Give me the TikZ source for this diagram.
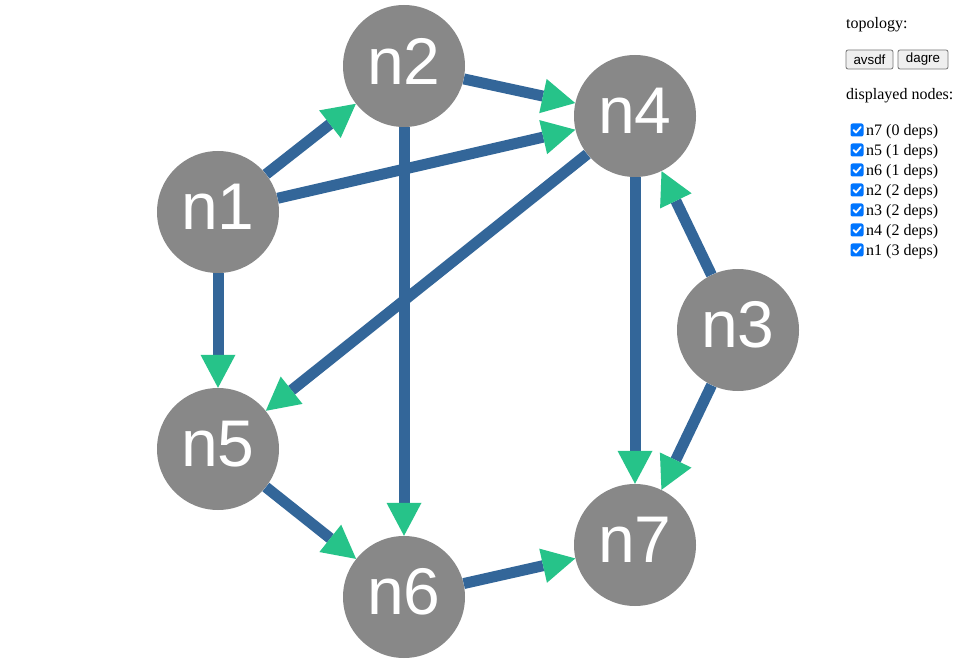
\documentclass[tikz,border=0pt]{standalone}
\usepackage{fontspec}
\setmainfont{Liberation Serif}
\newfontfamily\nodefont{Liberation Sans}
\usetikzlibrary{arrows.meta}
\definecolor{nodegray}{HTML}{888888}
\definecolor{edgeblue}{HTML}{336699}
\definecolor{tipgreen}{HTML}{26C389}
\definecolor{cbblue}{HTML}{0075FF}
\definecolor{btnborder}{HTML}{767676}
\definecolor{btnfill}{HTML}{EFEFEF}
\begin{document}
\begin{tikzpicture}[x=1pt,y=-1pt,
  vert/.style={circle,fill=nodegray,minimum size=122pt,inner sep=0pt},
  vlab/.style={text=white,font=\nodefont\fontsize{66}{66}\selectfont,inner sep=0pt,yshift=5pt},
  edge/.style={draw=edgeblue,line width=11pt,-{Triangle[length=33pt,width=35pt,line width=0pt,color=tipgreen,fill=tipgreen]}},
  paneltext/.style={anchor=base west,inner sep=0pt,font=\fontsize{16}{19}\selectfont},
  btn/.style={draw=btnborder,fill=btnfill,rounded corners=2pt,line width=0.8pt,minimum height=19pt,inner sep=0pt,font=\nodefont\fontsize{13.33}{15}\selectfont},
  cbox/.style={fill=cbblue,rounded corners=2pt,minimum size=13pt,inner sep=0pt},
]
\useasboundingbox (0,0) rectangle (956,660);
\fill[white] (0,0) rectangle (956,660);

\node[vert,label={[vlab]center:n1}] (n1) at (218,212) {};
\node[vert,label={[vlab]center:n2}] (n2) at (404,66) {};
\node[vert,label={[vlab]center:n4}] (n4) at (635,116) {};
\node[vert,label={[vlab]center:n3}] (n3) at (738,330) {};
\node[vert,label={[vlab]center:n5}] (n5) at (218,449) {};
\node[vert,label={[vlab]center:n6}] (n6) at (404,597) {};
\node[vert,label={[vlab]center:n7}] (n7) at (635,545) {};

\draw[edge] (n1) -- (n2);
\draw[edge] (n1) -- (n4);
\draw[edge] (n1) -- (n5);
\draw[edge] (n2) -- (n4);
\draw[edge] (n2) -- (n6);
\draw[edge] (n4) -- (n5);
\draw[edge] (n4) -- (n7);
\draw[edge] (n3) -- (n4);
\draw[edge] (n3) -- (n7);
\draw[edge] (n5) -- (n6);
\draw[edge] (n6) -- (n7);

\node[paneltext] (topo) at (846,29) {topology:};
\node[btn,minimum width=47pt] (bavsdf) at (869.5,59.5) {avsdf};
\node[btn,minimum width=50pt] (bdagre) at (923,59.5) {dagre};
\node[paneltext] (disp) at (846,100) {displayed nodes:};

\foreach \lab [count=\i from 0] in {n7 (0 deps),n5 (1 deps),n6 (1 deps),n2 (2 deps),n3 (2 deps),n4 (2 deps),n1 (3 deps)}{
  \node[cbox] (cb\i) at (857,{130+20*\i}) {};
  \draw[white,line width=1.8pt,line cap=round,line join=round]
    ([xshift=-3.5pt,yshift=0pt]cb\i.center) -- ([xshift=-1pt,yshift=-2.5pt]cb\i.center) -- ([xshift=3.8pt,yshift=3pt]cb\i.center);
  \node[paneltext] (cl\i) at (866,{136+20*\i}) {\lab};
}
\end{tikzpicture}
\end{document}
